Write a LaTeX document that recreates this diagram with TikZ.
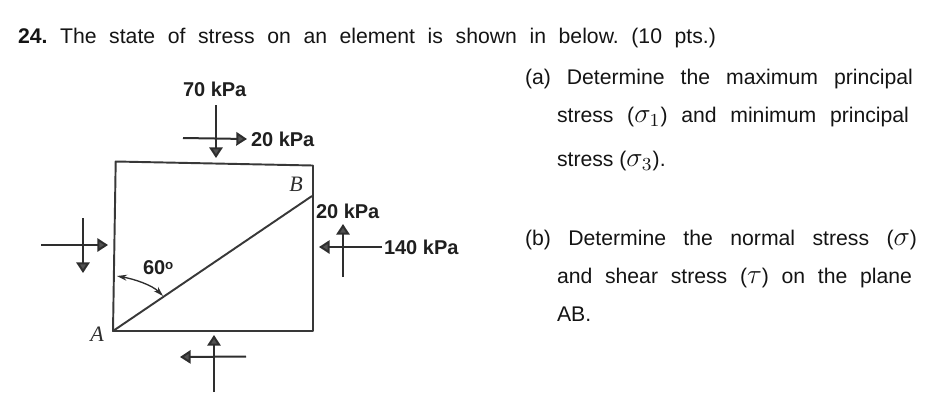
\documentclass[tikz,border=0pt]{standalone}
\usepackage{fontspec}
\setmainfont{Liberation Sans}
\newfontfamily\ptfont{Liberation Serif}
\usetikzlibrary{arrows.meta}
\newcommand{\jline}[2]{\makebox[\dimexpr #1pt*3/4\relax][s]{\frenchspacing #2}}
\newcommand{\mth}[1]{\scalebox{1.72}{\fontsize{12}{14}\selectfont$#1$}}
\tikzset{
  x=0.75pt,y=-0.75pt,
  body/.style={anchor=base west,inner sep=0pt,outer sep=0pt,font=\fontsize{15.9}{18}\selectfont\frenchspacing,text=black!92},
  lab/.style={anchor=base west,inner sep=0pt,outer sep=0pt,font=\bfseries\fontsize{15}{18}\selectfont,text=black!88},
  pt/.style={inner sep=0pt,outer sep=0pt,font=\ptfont\itshape\fontsize{16.5}{18}\selectfont,text=black!82},
  edge/.style={line width=1.45pt,draw=black!78},
  force/.style={line width=1.5pt,draw=black!82,-{Triangle[length=8pt,width=10pt,fill=black!68]}},
  angarrow/.style={line width=1pt,draw=black!82,{Stealth[length=7.5pt,width=4.5pt]}-{Stealth[length=7.5pt,width=4.5pt]}}
}
\begin{document}
\begin{tikzpicture}
\useasboundingbox (0,0) rectangle (942,412);
% text
\node[body] (t0) at (18,43) {\jline{698}{\textbf{24.} The state of stress on an element is shown in below. (10 pts.)}};
\node[body] (a1) at (525,84) {\jline{388}{(a) Determine the maximum principal}};
\node[body] (a2) at (557,122) {\jline{352}{stress (\mth{\sigma_1}) and minimum principal}};
\node[body] (a3) at (557,166) {stress (\mth{\sigma_3}).};
\node[body] (b1) at (525,245) {\jline{392}{(b) Determine the normal stress (\mth{\sigma})}};
\node[body] (b2) at (557,283) {\jline{355}{and shear stress (\mth{\tau}) on the plane}};
\node[body] (b3) at (557,321) {AB.};
% element
\coordinate (TL) at (115.7,161.5);
\coordinate (TR) at (313,165.5);
\coordinate (BR) at (313,331);
\coordinate (A0) at (113,331);
\coordinate (B0) at (312,196);
\draw[edge,line join=round] (A0) -- (TL) -- (TR) -- (BR) -- cycle;
\draw[edge] (A0) -- (B0);
\node[pt] (A) at (97,334) {A};
\node[pt] (B) at (296,184) {B};
% top
\coordinate (t1) at (216,105); \coordinate (t2) at (216,158);
\coordinate (t3) at (183,138); \coordinate (t4) at (247,139);
\draw[force] (t1) -- (t2);
\draw[force] (t3) -- (t4);
\node[lab] (l70) at (183,96) {70 kPa};
\node[lab] (l20a) at (251,146) {20 kPa};
% left
\coordinate (l1) at (41,245); \coordinate (l2) at (108,245);
\coordinate (l3) at (83,218); \coordinate (l4) at (83,273);
\draw[force] (l1) -- (l2);
\draw[force] (l3) -- (l4);
% bottom
\coordinate (b5) at (214,392); \coordinate (b6) at (214,335);
\coordinate (b7) at (246,356.5); \coordinate (b8) at (180,357);
\draw[force] (b5) -- (b6);
\draw[force] (b7) -- (b8);
% right
\coordinate (r1) at (343,277); \coordinate (r2) at (343,224);
\coordinate (r3) at (382,247); \coordinate (r4) at (319,247);
\draw[force] (r1) -- (r2);
\draw[force] (r3) -- (r4);
\node[lab] (l20b) at (316,218) {20 kPa};
\node[lab] (l140) at (384,254) {140 kPa};
% angle
\coordinate (g1) at (117,276); \coordinate (g2) at (163,296);
\draw[angarrow] (g1) .. controls (134,279) and (152,285) .. (g2);
\node[lab] (l60) at (143,274) {60\raisebox{0.45ex}{\fontsize{10}{10}\selectfont o}};
\end{tikzpicture}
\end{document}
